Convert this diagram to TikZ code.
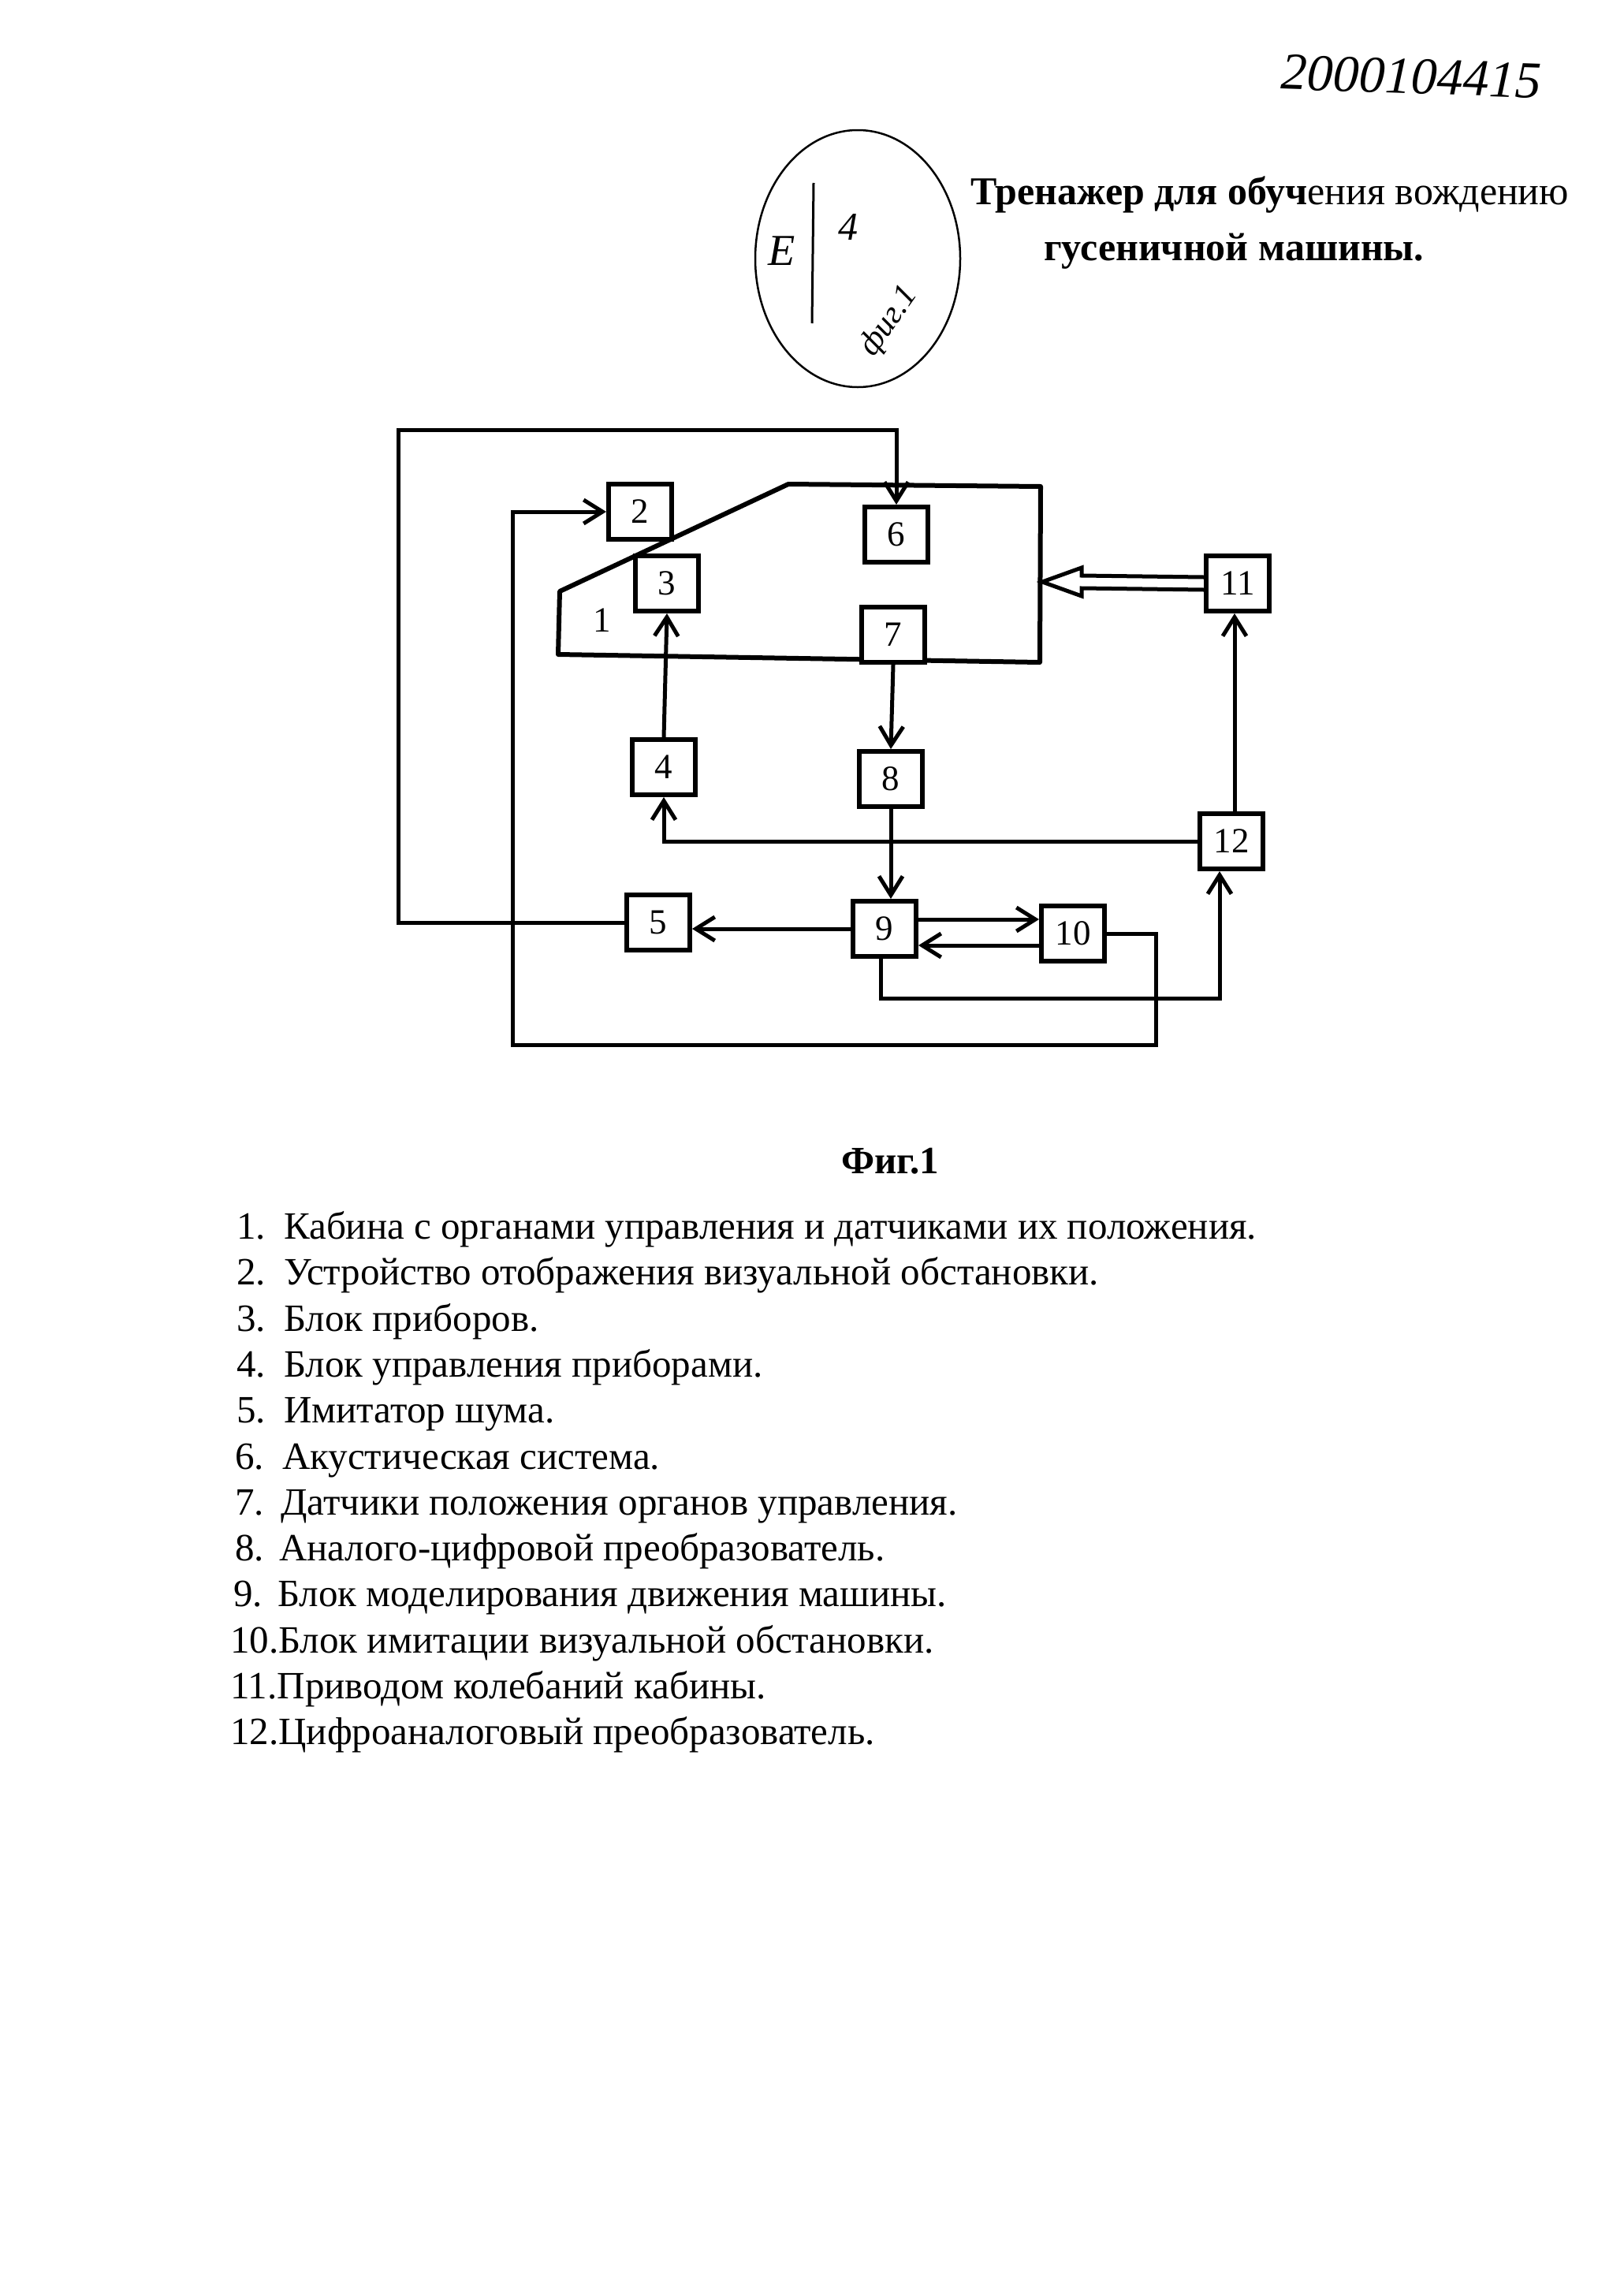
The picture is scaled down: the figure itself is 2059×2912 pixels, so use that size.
\documentclass[tikz,border=0pt]{standalone}
\usepackage{fontspec}
\setmainfont{Liberation Serif}
\usetikzlibrary{arrows.meta,calc}
\begin{document}
\begin{tikzpicture}[x=1pt,y=-1pt,
  blk/.style={draw,line width=6pt,fill=white,minimum width=80pt,minimum height=70pt,inner sep=0pt,font=\fontsize{45}{47}\selectfont},
  wire/.style={line width=5pt},
  arr/.style={wire,-{Straight Barb[length=24pt,width=30pt]}},
  lst/.style={anchor=base west,inner sep=0pt,font=\fontsize{49}{51}\selectfont},
  ttl/.style={anchor=west,inner sep=0pt,font=\fontsize{50}{52}\selectfont\bfseries},
  hand/.style={inner sep=0pt,font=\itshape}
]
\useasboundingbox (0,0) rectangle (2059,2912);

% handwritten annotations
\node[hand,font=\fontsize{66}{70}\selectfont\itshape,rotate=-2] (num) at (1790,97) {2000104415};
\draw[line width=2.5pt] (1088,328) ellipse [x radius=130pt, y radius=163pt];
\node[hand,font=\fontsize{56}{60}\selectfont\itshape] (he) at (992,318) {Е};
\draw[line width=3pt] (1032,232) -- (1030,410);
\node[hand,font=\fontsize{50}{54}\selectfont\itshape] (h4) at (1076,288) {4};
\node[hand,font=\fontsize{42}{46}\selectfont\itshape,rotate=55] (hf) at (1128,408) {фиг.1};

% title
\node[ttl] (t1) at (1231,247) {Тренажер для обуч\textmd{ения вождению}};
\node[ttl] (t2) at (1324,319) {гусеничной машины.};

% cabin 1
\draw[line width=6pt,line join=round] (710,750) -- (1000,614) -- (1320,617) -- (1319,840) -- (708,830) -- cycle;
\node[inner sep=0pt,font=\fontsize{45}{47}\selectfont] (l1) at (764,787) {1};

% blocks
\node[blk] (b2) at (812,649) {2};
\node[blk] (b3) at (846,740) {3};
\node[blk] (b6) at (1137,678) {6};
\node[blk] (b7) at (1133,805) {7};
\node[blk] (b11) at (1570,740) {11};
\node[blk] (b4) at (842,973) {4};
\node[blk] (b8) at (1130,988) {8};
\node[blk] (b12) at (1562,1067) {12};
\node[blk] (b5) at (835,1170) {5};
\node[blk] (b9) at (1122,1178) {9};
\node[blk] (b10) at (1361,1184) {10};

% connectors
\draw[arr] (b4.north) -- (b3.south);
\draw[arr] (b7.south) -- (b8.north);
\draw[arr] (b8.south) -- (b8.south |- b9.north);
\draw[arr] (b9.west) -- (b9.west -| b5.east);
\draw[arr] (b5.west) -- (b5.west -| 505,0) |- (b6.north |- 0,545) -- (b6.north);
\draw[arr] (b9.east |- 0,1166) -- (b10.west |- 0,1166);
\draw[arr] (b10.west |- 0,1199) -- (b9.east |- 0,1199);
\draw[arr] (b10.east) -- (b10.east -| 1466,0) -- (1466,1325) -- (650,1325) |- (b2.west);
\draw[arr] (b9.south -| 1117,0) -- (1117,1266) -| (b12.south -| 1547,0);
\draw[arr] (b12.west) -| (b4.south);
\draw[arr] (b12.north -| 1566,0) -- (b11.south -| 1566,0);
% hollow arrow 11 -> cabin
\draw[line width=5pt,line join=miter] ($(b11.west)+(0,-8)$) -- (1372,730) -- (1372,720) -- (1322,738) -- (1372,756) -- (1372,746) -- ($(b11.west)+(0,8)$);

% caption
\node[inner sep=0pt,font=\fontsize{49}{51}\selectfont\bfseries] (fig) at (1129,1473) {Фиг.1};

% list
\node[lst] (n1) at (300,1571) {1.};
\node[lst] (i1) at (360,1571) {Кабина с органами управления и датчиками их положения.};
\node[lst] (n2) at (300,1629) {2.};
\node[lst] (i2) at (360,1629) {Устройство отображения визуальной обстановки.};
\node[lst] (n3) at (300,1688) {3.};
\node[lst] (i3) at (360,1688) {Блок приборов.};
\node[lst] (n4) at (300,1746) {4.};
\node[lst] (i4) at (360,1746) {Блок управления приборами.};
\node[lst] (n5) at (300,1804) {5.};
\node[lst] (i5) at (360,1804) {Имитатор шума.};
\node[lst] (n6) at (298,1863) {6.};
\node[lst] (i6) at (358,1863) {Акустическая система.};
\node[lst] (n7) at (298,1921) {7.};
\node[lst] (i7) at (356,1921) {Датчики положения органов управления.};
\node[lst] (n8) at (298,1979) {8.};
\node[lst] (i8) at (354,1979) {Аналого-цифровой преобразователь.};
\node[lst] (n9) at (296,2037) {9.};
\node[lst] (i9) at (352,2037) {Блок моделирования движения машины.};
\node[lst] (i10) at (292,2096) {10.Блок имитации визуальной обстановки.};
\node[lst] (i11) at (292,2154) {11.Приводом колебаний кабины.};
\node[lst] (i12) at (292,2212) {12.Цифроаналоговый преобразователь.};
\end{tikzpicture}
\end{document}
